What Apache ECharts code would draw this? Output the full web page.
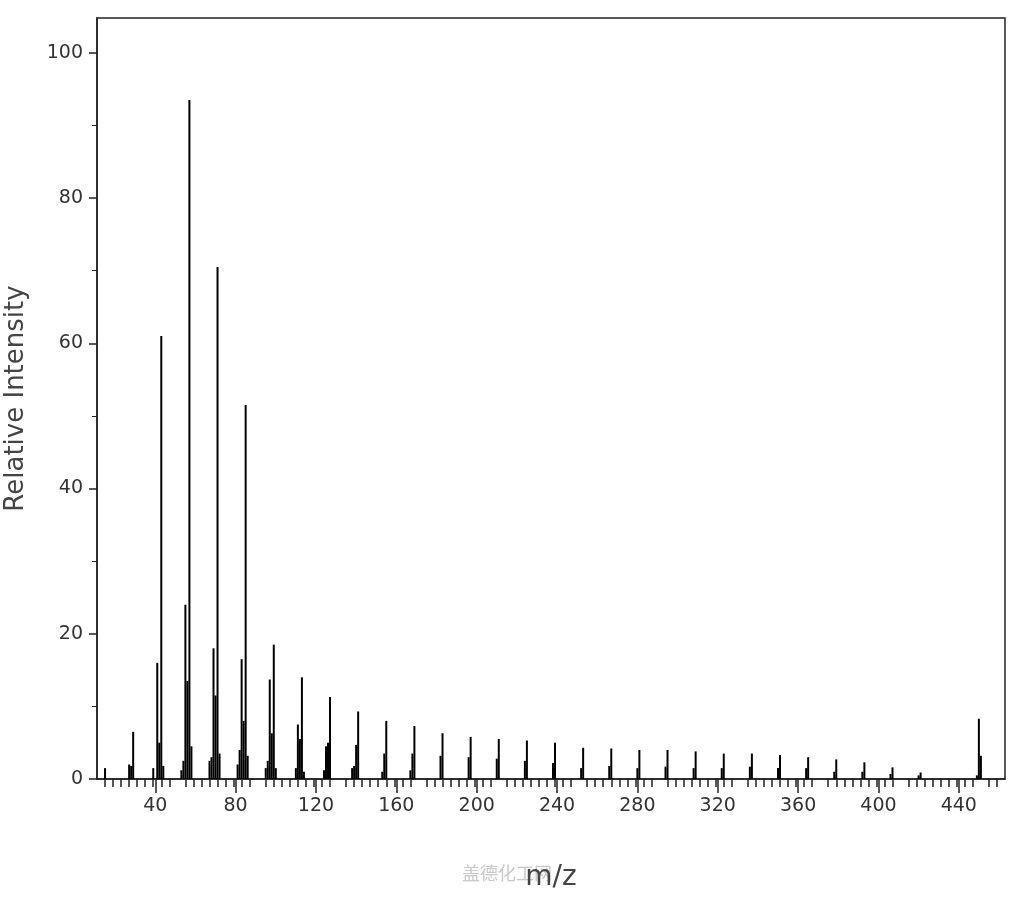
<!DOCTYPE html>
<html>
<head>
<meta charset="utf-8">
<script src="https://cdn.jsdelivr.net/npm/echarts@6/dist/echarts.min.js"></script>
<style>html,body{margin:0;background:#fff}#chart{width:1024px;height:900px}</style>
</head>
<body>
<div id="chart"></div>
<script>
// m/z of each peak
const mz = [15, 27, 28, 29, 39, 41, 42, 43, 44,
  53, 54, 55, 56, 57, 58, 67, 68, 69, 70, 71, 72,
  81, 82, 83, 84, 85, 86, 95, 96, 97, 98, 99, 100,
  110, 111, 112, 113, 114, 124, 125, 126, 127, 138, 139, 140, 141,
  153, 154, 155, 167, 168, 169, 182, 183, 196, 197, 210, 211, 224, 225,
  238, 239, 252, 253, 266, 267, 280, 281, 294, 295, 308, 309, 322, 323,
  336, 337, 350, 351, 364, 365, 378, 379, 392, 393, 406, 407, 420, 421,
  449, 450, 451];
// relative intensity, %
const intensity = [1.5, 2, 1.8, 6.5, 1.5, 16, 5, 61, 1.8,
  1.2, 2.5, 24, 13.5, 93.5, 4.5, 2.5, 3, 18, 11.5, 70.5, 3.5,
  2, 4, 16.5, 8, 51.5, 3.2, 1.5, 2.5, 13.7, 6.3, 18.5, 1.5,
  1.5, 7.5, 5.5, 14, 1, 1.2, 4.5, 5, 11.3, 1.5, 1.8, 4.7, 9.3,
  1, 3.5, 8, 1.2, 3.5, 7.3, 3.2, 6.3, 3, 5.8, 2.8, 5.5, 2.5, 5.3,
  2.2, 5, 1.5, 4.3, 1.8, 4.2, 1.5, 4, 1.7, 4, 1.5, 3.8, 1.5, 3.5,
  1.7, 3.5, 1.5, 3.3, 1.5, 3, 1, 2.7, 1, 2.3, 0.7, 1.6, 0.5, 0.9,
  0.5, 8.3, 3.2];
const xTicks = [40, 80, 120, 160, 200, 240, 280, 320, 360, 400, 440];
const yTicks = [0, 20, 40, 60, 80, 100];

const chart = echarts.init(document.getElementById('chart'));
chart.setOption({
  animation: false,
  grid: {left: 97, right: 19, top: 18, bottom: 121, containLabel: false, outerBoundsMode: 'none',
    show: true, borderColor: '#222', borderWidth: 1.5},
  xAxis: {
    type: 'value', min: 11, max: 463,
    interval: 40,
    axisLine: {onZero: false, lineStyle: {color: '#222', width: 1.5}},
    axisTick: {show: true, length: 14, inside: false, lineStyle: {color: '#222', width: 1.5},
      customValues: xTicks},
    minorTick: {show: true, splitNumber: 10, length: 8, lineStyle: {color: '#222', width: 1.5}},
    axisLabel: {customValues: xTicks, color: '#333', fontSize: 19, fontFamily: 'DejaVu Sans', margin: 18},
    splitLine: {show: false},
    name: 'm/z', nameLocation: 'middle', nameGap: 85,
    nameTextStyle: {color: '#444', fontSize: 28, fontFamily: 'DejaVu Sans'}
  },
  yAxis: {
    type: 'value', min: 0, max: 104.8, interval: 20,
    axisLine: {show: true, lineStyle: {color: '#222', width: 1.5}},
    axisTick: {show: true, length: 8, customValues: yTicks, lineStyle: {color: '#222', width: 1.5}},
    minorTick: {show: true, splitNumber: 2, length: 5, lineStyle: {color: '#222'}},
    axisLabel: {customValues: yTicks, color: '#333', fontSize: 19, fontFamily: 'DejaVu Sans', margin: 14},
    splitLine: {show: false},
    name: 'Relative Intensity', nameLocation: 'middle', nameGap: 68,
    nameTextStyle: {color: '#444', fontSize: 26, fontFamily: 'DejaVu Sans'}
  },
  graphic: [{type: 'text', left: 462, top: 864, style: {text: '盖德化工网', fill: '#c8c8c8', fontSize: 18, fontFamily: 'Noto Sans CJK SC'}}],
  series: [{
    type: 'bar', barWidth: 2, itemStyle: {color: '#000'},
    data: mz.map((m, i) => [m, intensity[i]])
  }]
});
</script>
</body>
</html>
